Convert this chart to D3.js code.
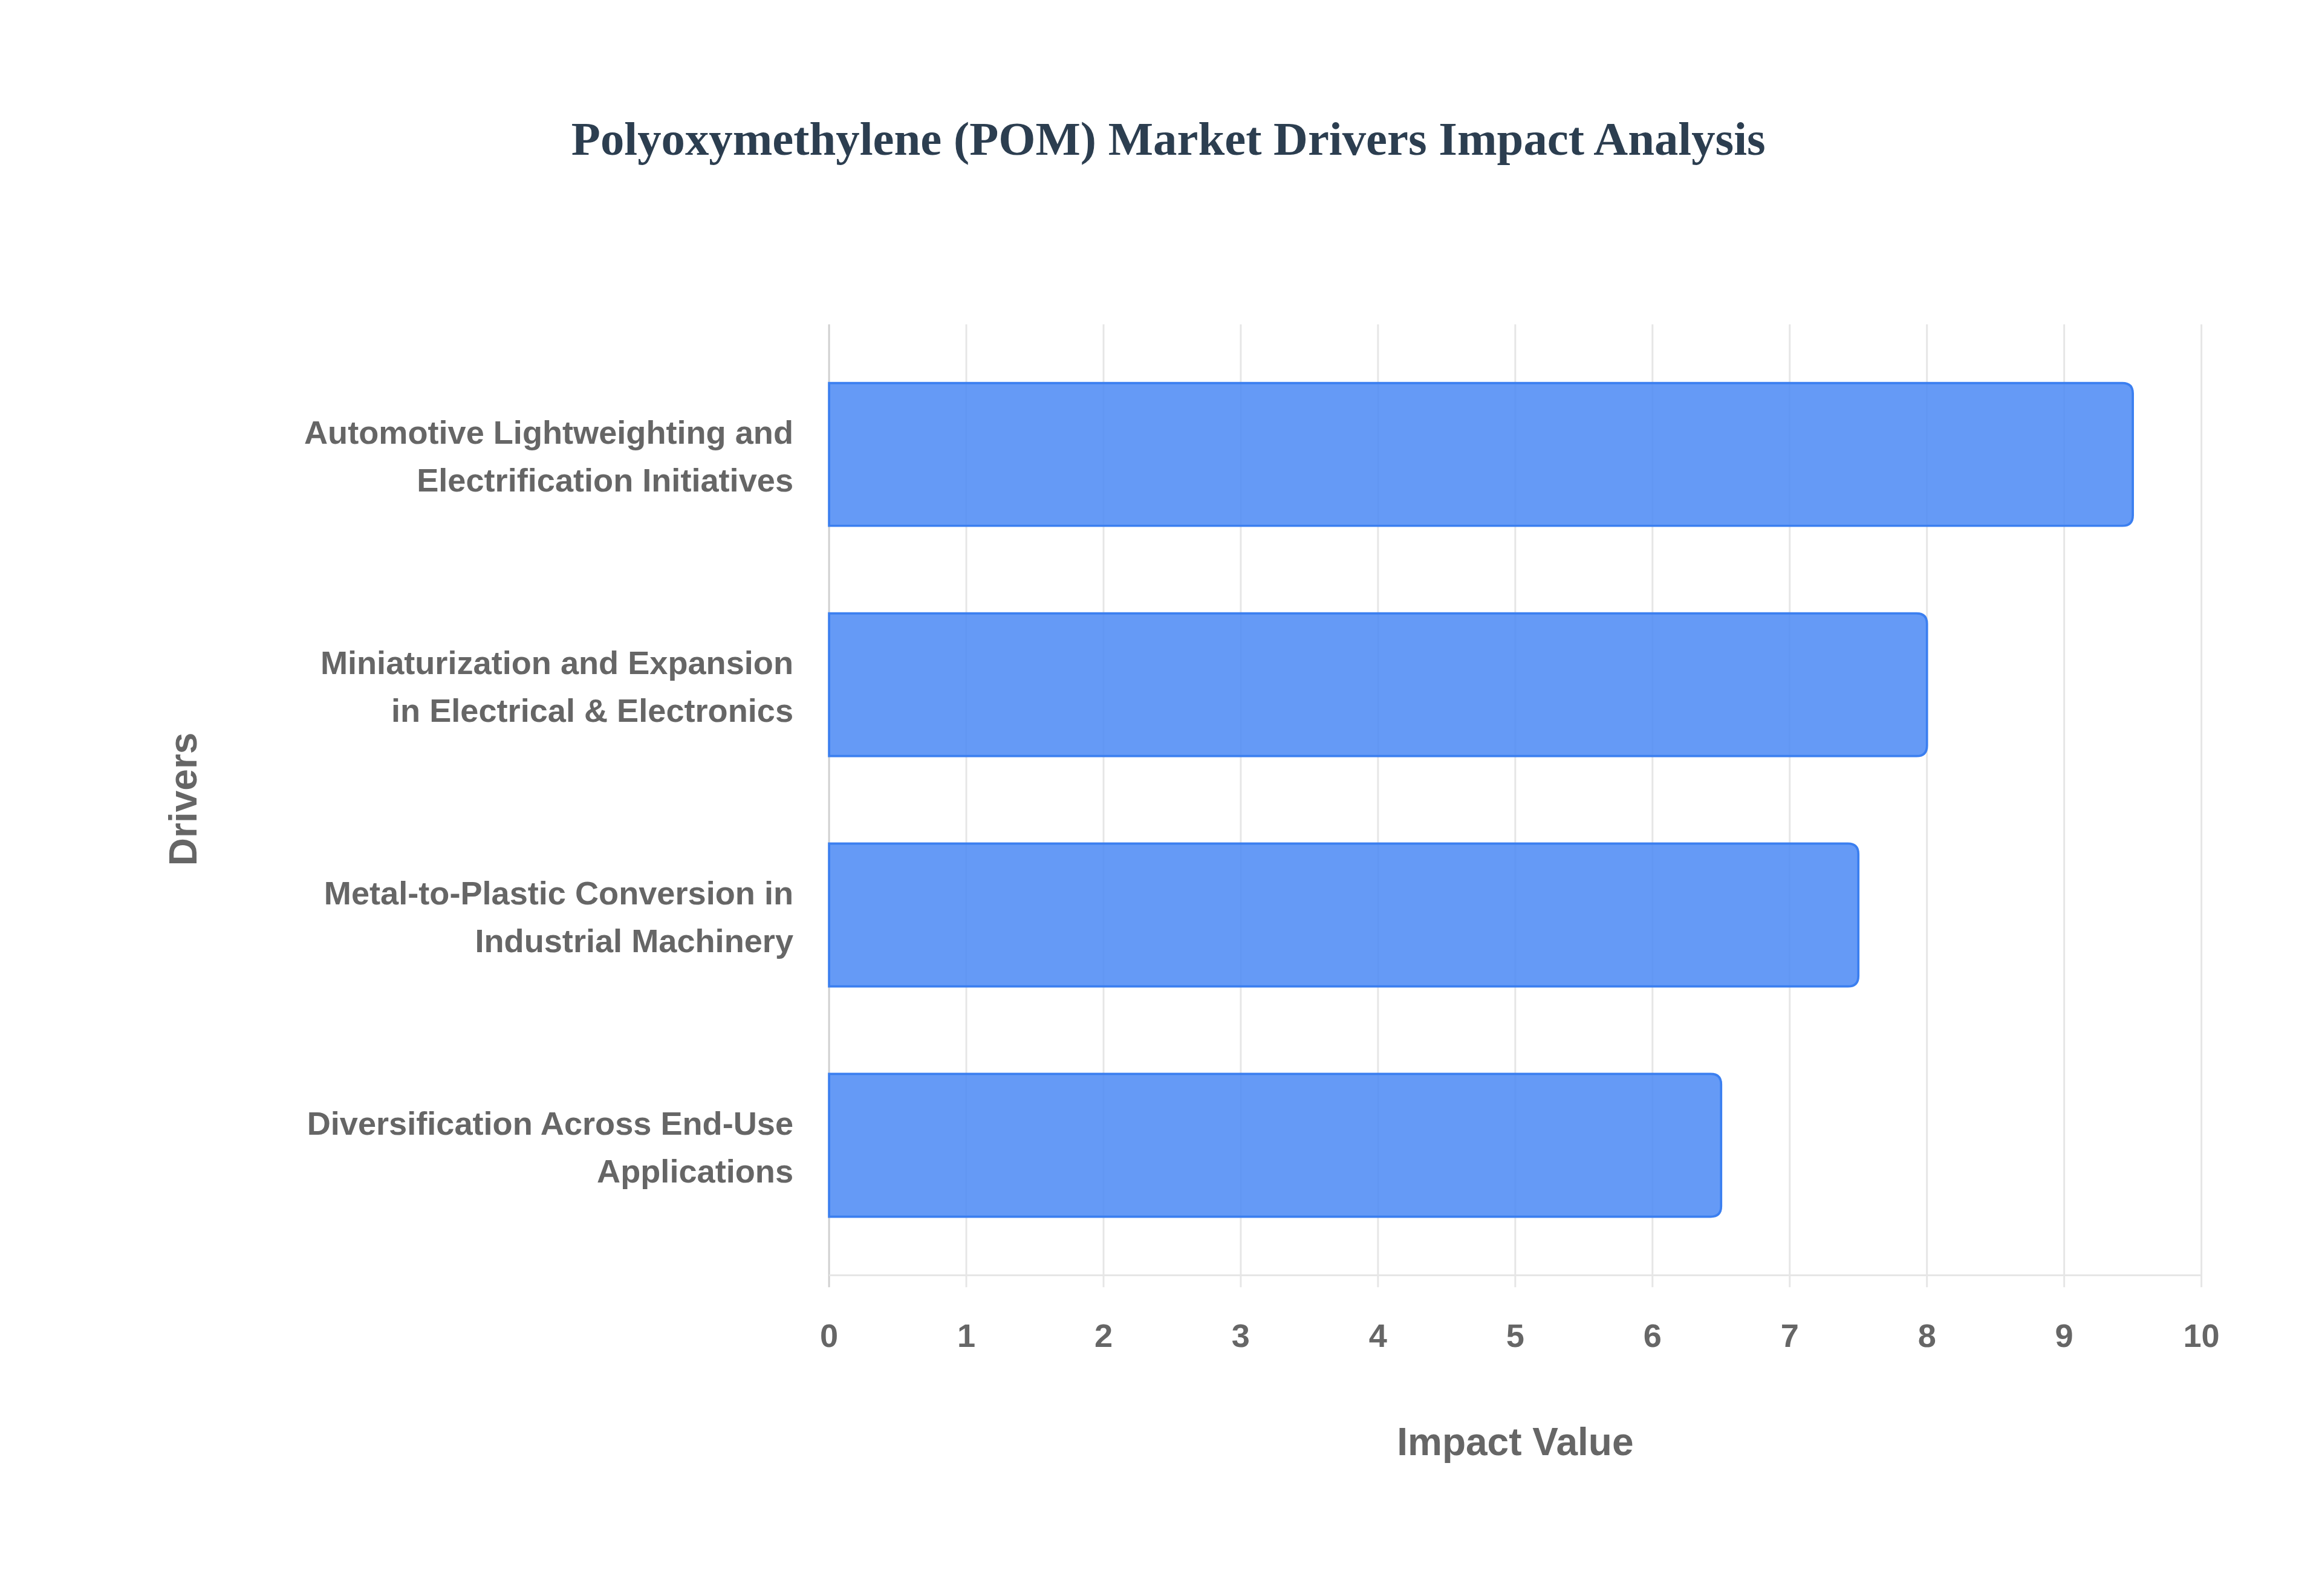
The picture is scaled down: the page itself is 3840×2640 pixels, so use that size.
<!DOCTYPE html>
<html>
<head>
<meta charset="utf-8">
<script src="https://cdn.jsdelivr.net/npm/d3@7"></script>
<style>
  body { margin: 0; background: #fff; }
  text { font-family: "Liberation Sans", Arial, sans-serif; }
</style>
</head>
<body>
<div id="chart"></div>
<script>
var W = 3840, H = 2640;
var vw = 1560, vh = 1072.5;

// data
var drivers = [
  ["Automotive Lightweighting and", "Electrification Initiatives"],
  ["Miniaturization and Expansion", "in Electrical & Electronics"],
  ["Metal-to-Plastic Conversion in", "Industrial Machinery"],
  ["Diversification Across End-Use", "Applications"]
];
var impact = [9.5, 8, 7.5, 6.5];
var ticks = [0, 1, 2, 3, 4, 5, 6, 7, 8, 9, 10];

var plotLeft = 557, plotRight = 1479, plotTop = 218, plotBottom = 857;

var svg = d3.select("#chart").append("svg")
  .attr("width", W).attr("height", H)
  .attr("viewBox", "0 0 " + vw + " " + vh);

var x = d3.scaleLinear().domain([0, 10]).range([plotLeft, plotRight]);
var y = d3.scaleBand().domain(d3.range(drivers.length)).range([plotTop + 10, plotBottom - 10]).paddingInner(0.38).paddingOuter(0.19);

// grid
svg.selectAll(".grid").data(ticks).enter().append("line")
  .attr("x1", function(d) { return x(d); }).attr("x2", function(d) { return x(d); })
  .attr("y1", plotTop).attr("y2", plotBottom + 8)
  .attr("stroke", function(d) { return d === 0 ? "#cfcfcf" : "#e6e6e6"; })
  .attr("stroke-width", 1.2);

svg.append("line").attr("x1", plotLeft).attr("x2", plotRight).attr("y1", plotBottom).attr("y2", plotBottom)
  .attr("stroke", "#e6e6e6").attr("stroke-width", 1.2);

// bars with rounded right end
svg.selectAll(".bar").data(impact).enter().append("path")
  .attr("d", function(d, i) {
    var x0 = x(0), x1 = x(d), y0 = y(i), h = y.bandwidth(), r = 7;
    return "M" + x0 + "," + y0 + "H" + (x1 - r) + "Q" + x1 + "," + y0 + " " + x1 + "," + (y0 + r) +
      "V" + (y0 + h - r) + "Q" + x1 + "," + (y0 + h) + " " + (x1 - r) + "," + (y0 + h) + "H" + x0 + "Z";
  })
  .attr("fill", "rgba(80,140,245,0.88)")
  .attr("stroke", "#3b7ff0").attr("stroke-width", 1.5);

// tick labels
svg.selectAll(".tick").data(ticks).enter().append("text")
  .attr("x", function(d) { return x(d); }).attr("y", 905)
  .attr("text-anchor", "middle").attr("font-size", 22).attr("font-weight", "bold")
  .attr("fill", "#666").text(function(d) { return d; });

// category labels
drivers.forEach(function(lines, i) {
  var cy = y(i) + y.bandwidth() / 2;
  var t = svg.append("text").attr("text-anchor", "end").attr("font-size", 22)
    .attr("font-weight", "bold").attr("fill", "#666");
  lines.forEach(function(l, j) {
    t.append("tspan").attr("x", 533).attr("y", cy - 7 + j * 32).text(l);
  });
});

// axis titles
svg.append("text").attr("x", 1018).attr("y", 978).attr("text-anchor", "middle")
  .attr("font-size", 26).attr("font-weight", "bold").attr("fill", "#666").text("Impact Value");
svg.append("text").attr("transform", "translate(132,537) rotate(-90)").attr("text-anchor", "middle")
  .attr("font-size", 26).attr("font-weight", "bold").attr("fill", "#666").text("Drivers");

// title
svg.append("text").attr("x", 785).attr("y", 104).attr("text-anchor", "middle")
  .style("font-family", "'Liberation Serif', 'Times New Roman', serif")
  .attr("font-size", 32).attr("font-weight", "bold").attr("fill", "#2c3e50")
  .text("Polyoxymethylene (POM) Market Drivers Impact Analysis");
</script>
</body>
</html>
